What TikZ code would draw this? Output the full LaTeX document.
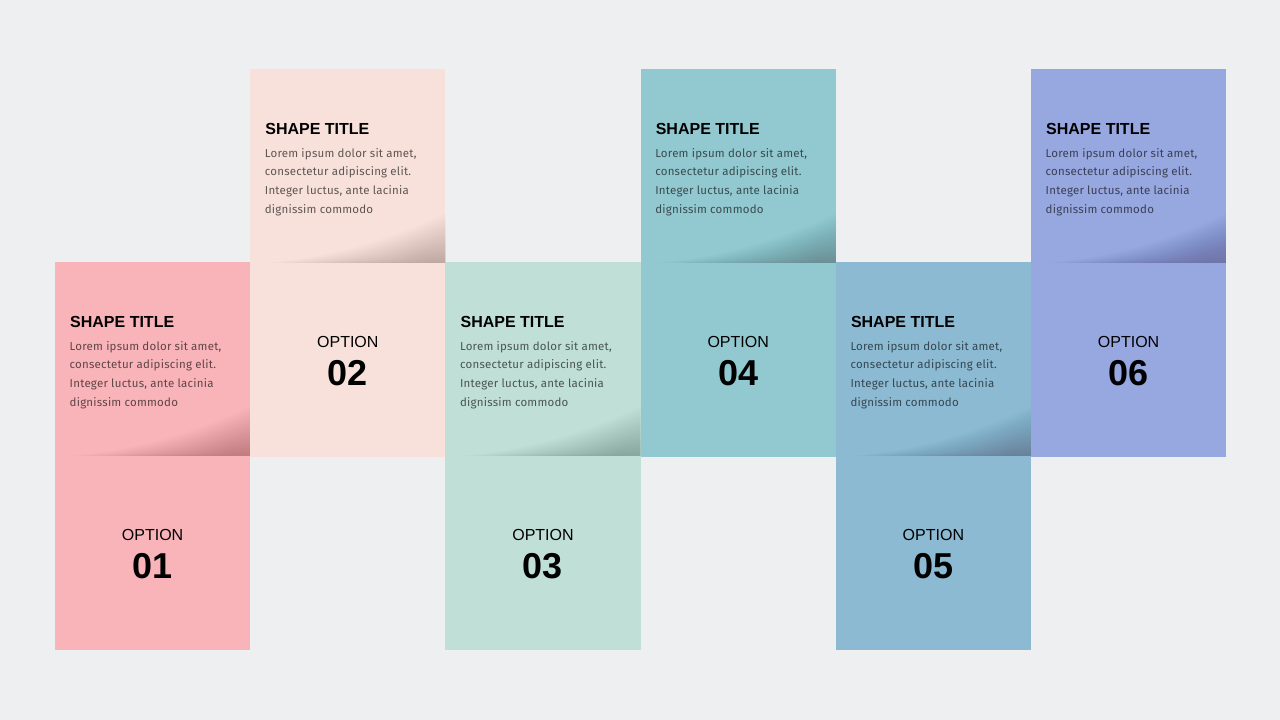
\documentclass[tikz,border=0pt]{standalone}
\usepackage{fontspec}
\setmainfont{Liberation Sans}
\newfontfamily\bodyfont[LetterSpace=2]{Fira Sans}
\usetikzlibrary{positioning}
\definecolor{bgcolor}{HTML}{EEEFF1}
\definecolor{colA}{HTML}{F9B4B9}
\definecolor{colB}{HTML}{F8E1DA}
\definecolor{colC}{HTML}{C0DFD6}
\definecolor{colD}{HTML}{92C8CF}
\definecolor{colE}{HTML}{8CBAD3}
\definecolor{colF}{HTML}{97A7E0}
\begin{document}
\begin{tikzpicture}[x=1pt,y=-1pt,
    titletext/.style={inner sep=0pt, font=\fontsize{16}{18}\selectfont\bfseries},
    bodytext/.style={inner sep=0pt, align=left, text=black, text opacity=0.62,
        font=\bodyfont\fontsize{11.5}{18.8}\selectfont},
    optiontext/.style={inner sep=0pt, font=\fontsize{16}{18}\selectfont},
    numtext/.style={inner sep=0pt, font=\fontsize{36}{38}\selectfont\bfseries}]
    \fill[bgcolor] (0,0) rectangle (1280,720);
    \foreach \i/\c/\t/\n in {1/colA/262/01, 2/colB/69/02, 3/colC/262/03, 4/colD/69/04, 5/colE/262/05, 6/colF/69/06} {
        \pgfmathsetmacro\xa{55+195.2*(\i-1)}
        \pgfmathsetmacro\xb{\xa+195.2}
        \pgfmathsetmacro\yb{\t+194}
        \fill[\c] (\xa,\t) rectangle (\xb,\t+388);
        % fold shadow
        \foreach \k in {1,...,28} {
            \pgfmathsetmacro\h{50*(1-(\k-1)/28)}
            \pgfmathsetmacro\s{\xa+10+4.5*(\k-1)}
            \fill[black, opacity=0.009] (\s,\yb) .. controls (\s+70,\yb-0.08*\h) and (\xb-45,\yb-0.55*\h) .. (\xb,\yb-\h) -- (\xb,\yb) -- cycle;
        }
        \node[titletext, anchor=base west] (title\i) at (\xa+15,\t+65) {SHAPE TITLE};
        \node[bodytext, anchor=north west] (body\i) at (\xa+14.5,\t+79) {Lorem ipsum dolor sit amet,\\consectetur adipiscing elit.\\Integer luctus, ante lacinia\\dignissim commodo};
        \node[optiontext] (option\i) at (\xa+97.6,\t+273) {OPTION};
        \node[numtext, below=12pt of option\i.south] (num\i) {\n};
    }
\end{tikzpicture}
\end{document}
